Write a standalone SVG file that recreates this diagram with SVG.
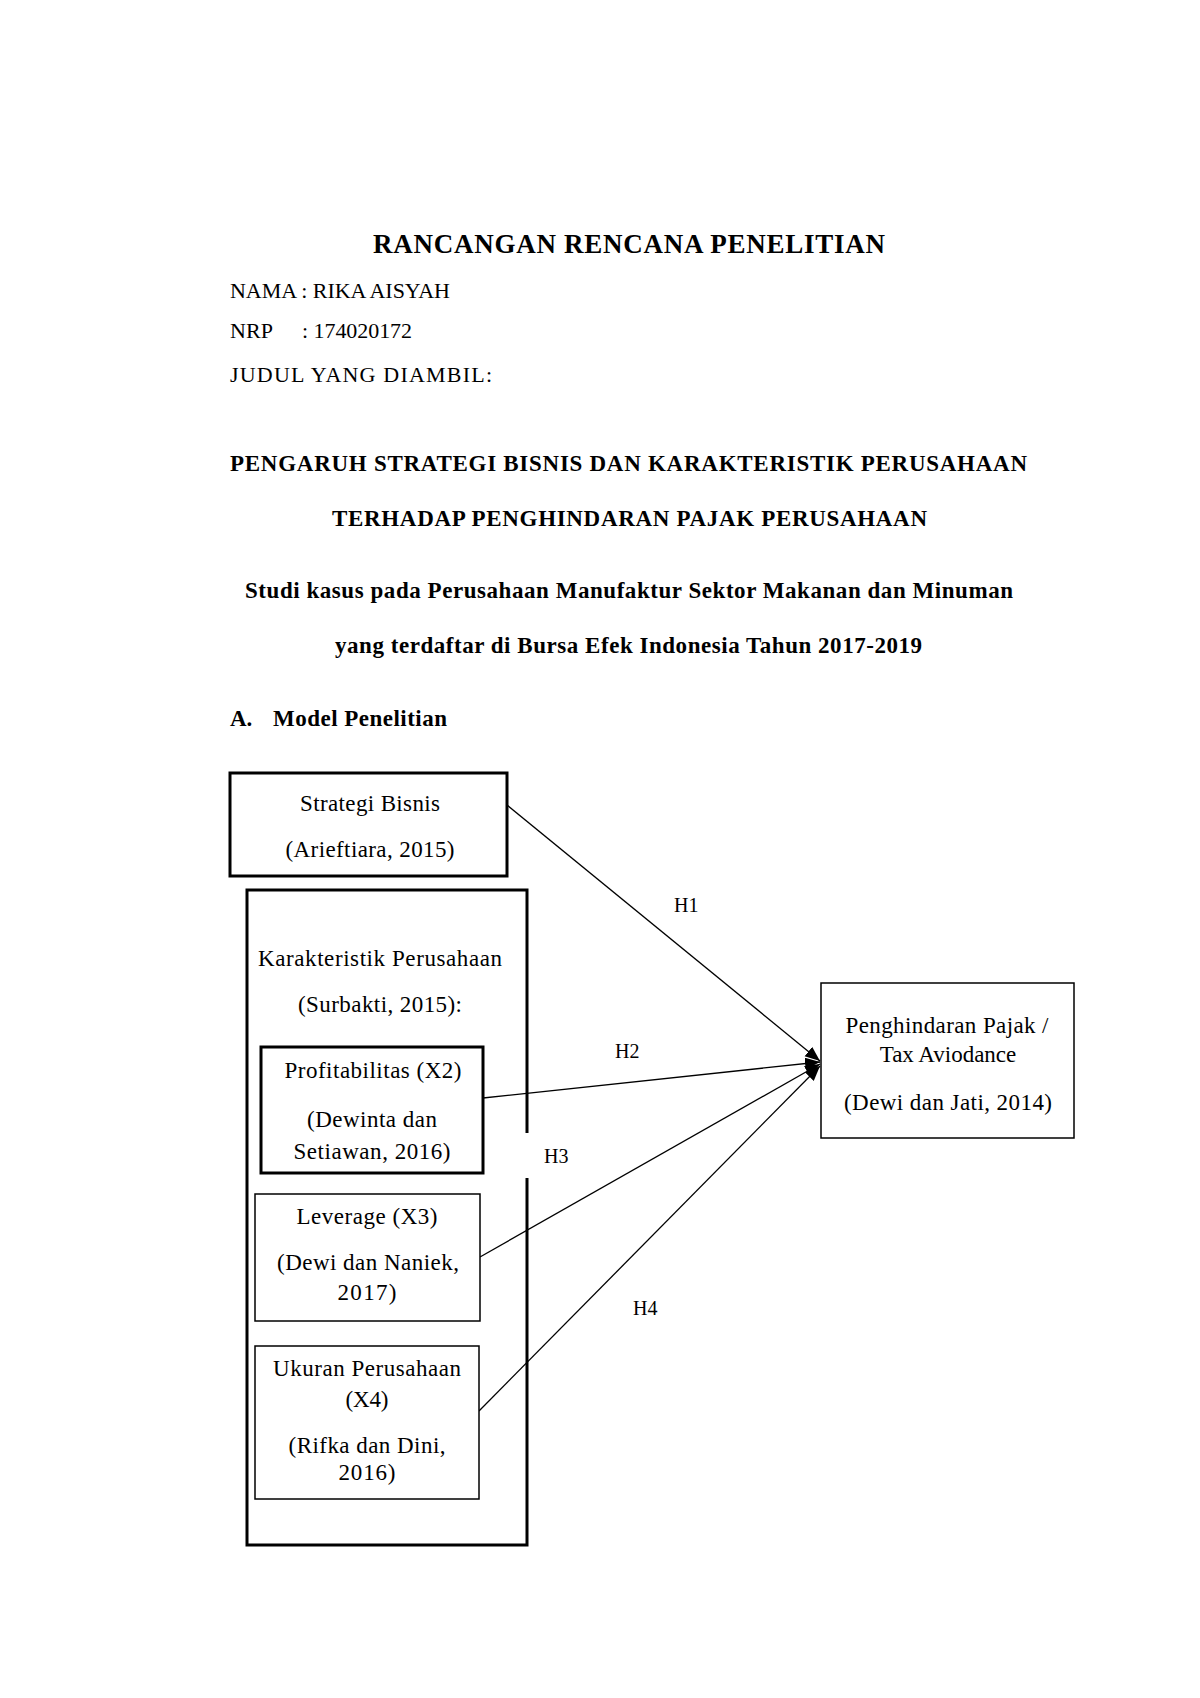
<svg xmlns="http://www.w3.org/2000/svg" width="1200" height="1698" viewBox="0 0 1200 1698">
<style>
text{font-family:"Liberation Serif","Times New Roman",serif;fill:#000;}
.h{font-size:22px;}
.hb{font-size:23px;font-weight:bold;}
.t{font-size:27px;font-weight:bold;}
.b{font-size:23px;text-anchor:middle;}
.lbl{font-size:20px;}
.thick{fill:#fff;stroke:#000;stroke-width:3;}
.thin{fill:#fff;stroke:#000;stroke-width:1.5;}
.con{fill:none;stroke:#000;stroke-width:1.3;marker-end:url(#ah);}
</style>
<defs>
<marker id="ah" markerUnits="userSpaceOnUse" markerWidth="18" markerHeight="14" refX="15" refY="6" orient="auto">
<path d="M0,0 L15,6 L0,12 z" fill="#000"/>
</marker>
</defs>
<rect width="1200" height="1698" fill="#fff"/>
<g id="header">
<text class="t" x="629" y="253" text-anchor="middle" textLength="512" lengthAdjust="spacing">RANCANGAN RENCANA PENELITIAN</text>
<text class="h" x="230" y="298" textLength="220" lengthAdjust="spacing">NAMA : RIKA AISYAH</text>
<text class="h" x="230" y="338" textLength="43" lengthAdjust="spacing">NRP</text>
<text class="h" x="302" y="338" textLength="110" lengthAdjust="spacing">: 174020172</text>
<text class="h" x="230" y="382" textLength="262" lengthAdjust="spacing">JUDUL YANG DIAMBIL:</text>
<text class="hb" x="628.5" y="471" text-anchor="middle" textLength="797" lengthAdjust="spacing">PENGARUH STRATEGI BISNIS DAN KARAKTERISTIK PERUSAHAAN</text>
<text class="hb" x="629.5" y="526" text-anchor="middle" textLength="595" lengthAdjust="spacing">TERHADAP PENGHINDARAN PAJAK PERUSAHAAN</text>
<text class="hb" x="629" y="598" text-anchor="middle" textLength="768" lengthAdjust="spacing">Studi kasus pada Perusahaan Manufaktur Sektor Makanan dan Minuman</text>
<text class="hb" x="628.5" y="653" text-anchor="middle" textLength="587" lengthAdjust="spacing">yang terdaftar di Bursa Efek Indonesia Tahun 2017-2019</text>
<text class="hb" x="230" y="726">A.</text>
<text class="hb" x="273" y="726" textLength="174" lengthAdjust="spacing">Model Penelitian</text>
</g>
<g id="connectors">
<line class="con" x1="507" y1="805" x2="820" y2="1061"/>
<line class="con" x1="483" y1="1098" x2="820" y2="1062"/>
<line class="con" x1="480" y1="1257" x2="820" y2="1064"/>
<line class="con" x1="479" y1="1411" x2="820" y2="1066"/>
<text class="lbl" x="674" y="912">H1</text>
<text class="lbl" x="615" y="1058">H2</text>
<text class="lbl" x="544" y="1163">H3</text>
<text class="lbl" x="633" y="1315">H4</text>
</g>
<g id="strategi-bisnis">
<rect class="thick" x="230" y="773" width="277" height="103"/>
<text class="b" x="370" y="811" textLength="140" lengthAdjust="spacing">Strategi Bisnis</text>
<text class="b" x="370" y="857" textLength="169" lengthAdjust="spacing">(Arieftiara, 2015)</text>
</g>
<g id="karakteristik-perusahaan">
<path d="M527,1133 L527,890 L247,890 L247,1545 L527,1545 L527,1178" fill="none" stroke="#000" stroke-width="3"/>
<text class="b" x="380" y="966" textLength="244" lengthAdjust="spacing">Karakteristik Perusahaan</text>
<text class="b" x="380" y="1012" textLength="164" lengthAdjust="spacing">(Surbakti, 2015):</text>
</g>
<g id="profitabilitas">
<rect class="thick" x="261" y="1047" width="222" height="126"/>
<text class="b" x="373" y="1078" textLength="177" lengthAdjust="spacing">Profitabilitas (X2)</text>
<text class="b" x="372" y="1127" textLength="130" lengthAdjust="spacing">(Dewinta dan</text>
<text class="b" x="372" y="1159" textLength="157" lengthAdjust="spacing">Setiawan, 2016)</text>
</g>
<g id="leverage">
<rect class="thin" x="255" y="1194" width="225" height="127"/>
<text class="b" x="367" y="1224" textLength="141" lengthAdjust="spacing">Leverage (X3)</text>
<text class="b" x="368" y="1270" textLength="182" lengthAdjust="spacing">(Dewi dan Naniek,</text>
<text class="b" x="367" y="1300" textLength="59" lengthAdjust="spacing">2017)</text>
</g>
<g id="ukuran-perusahaan">
<rect class="thin" x="255" y="1346" width="224" height="153"/>
<text class="b" x="367" y="1376" textLength="188" lengthAdjust="spacing">Ukuran Perusahaan</text>
<text class="b" x="367" y="1407" textLength="43" lengthAdjust="spacing">(X4)</text>
<text class="b" x="367" y="1453" textLength="157" lengthAdjust="spacing">(Rifka dan Dini,</text>
<text class="b" x="367" y="1480" textLength="57" lengthAdjust="spacing">2016)</text>
</g>
<g id="penghindaran-pajak">
<rect class="thin" x="821" y="983" width="253" height="155"/>
<text class="b" x="947" y="1033" textLength="203" lengthAdjust="spacing">Penghindaran Pajak /</text>
<text class="b" x="948" y="1062">Tax Aviodance</text>
<text class="b" x="948" y="1110" textLength="208" lengthAdjust="spacing">(Dewi dan Jati, 2014)</text>
</g>
</svg>
